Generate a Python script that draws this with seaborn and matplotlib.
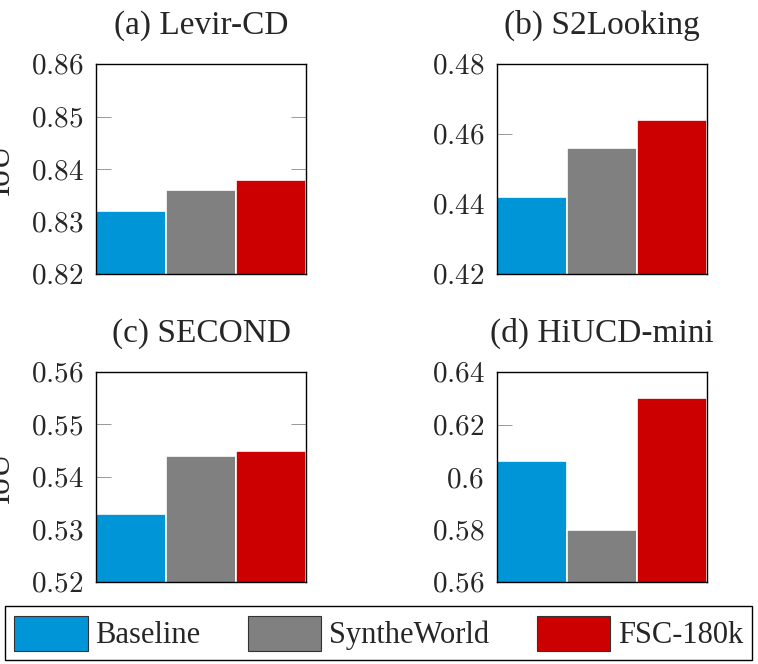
import seaborn as sns
import pandas as pd
import numpy as np
import matplotlib.pyplot as plt
from matplotlib.patches import Patch

# data
methods = ['Baseline', 'SyntheWorld', 'FSC-180k']
colors = ['#0095D6', '#808080', '#CC0000']
titles = ['(a) Levir-CD', '(b) S2Looking', '(c) SECOND', '(d) HiUCD-mini']
levir = [0.832, 0.836, 0.838]
s2looking = [0.442, 0.456, 0.464]
second = [0.533, 0.544, 0.545]
hiucd = [0.606, 0.580, 0.630]
levir_ticks = [0.82, 0.83, 0.84, 0.85, 0.86]
s2looking_ticks = [0.42, 0.44, 0.46, 0.48]
second_ticks = [0.52, 0.53, 0.54, 0.55, 0.56]
hiucd_ticks = [0.56, 0.58, 0.6, 0.62, 0.64]

sns.set_theme(style='white')
plt.rcParams['font.family'] = ['Liberation Serif', 'DejaVu Serif']
plt.rcParams['mathtext.fontset'] = 'cm'

fig, axs = plt.subplots(2, 2, figsize=(7.58, 6.64), dpi=100)
fig.subplots_adjust(left=96 / 758, right=707 / 758, top=1 - 64 / 664,
                    bottom=1 - 582 / 664, wspace=191 / 210, hspace=98 / 210)

panels = [(levir, levir_ticks), (s2looking, s2looking_ticks),
          (second, second_ticks), (hiucd, hiucd_ticks)]
for k, (vals, ticks) in enumerate(panels):
    ax = axs[k // 2][k % 2]
    df = pd.DataFrame({'method': methods, 'iou': vals})
    sns.barplot(data=df, x='method', y='iou', hue='method', palette=colors,
                width=1, saturation=1, edgecolor='white', linewidth=1.2,
                legend=False, ax=ax)
    ax.set_xlim(-0.5, 2.5)
    ax.set_ylim(ticks[0], ticks[-1])
    ax.set_yticks(ticks)
    ax.set_yticklabels([f'${t:g}$' for t in ticks], fontsize=21)
    ax.set_xticks([])
    ax.set_xlabel('')
    ax.set_ylabel('')
    ax.tick_params(axis='y', direction='in', left=True, right=True,
                   length=11, width=0.6, color='#888888', pad=9)
    for s in ax.spines.values():
        s.set_visible(True)
        s.set_color('black')
        s.set_linewidth(1.0)
    ax.set_title(titles[k], fontsize=24, pad=22)
    if k % 2 == 0:
        ax.set_ylabel('IoU', fontsize=24)
        ax.yaxis.set_label_coords(-0.38, 0.5)

handles = [Patch(facecolor=c, edgecolor='#333333', linewidth=0.8) for c in colors]
fig.legend(handles, methods, loc='lower left', ncol=3, mode='expand',
           bbox_to_anchor=(5 / 758, 4 / 664, 747 / 758, 56 / 664),
           fontsize=22, fancybox=False, edgecolor='black', framealpha=1,
           handlelength=2.4, handleheight=1.4, borderaxespad=0,
           handletextpad=0.25, columnspacing=1.3, borderpad=0.3)

plt.savefig('out.png', dpi=100)
plt.close()
